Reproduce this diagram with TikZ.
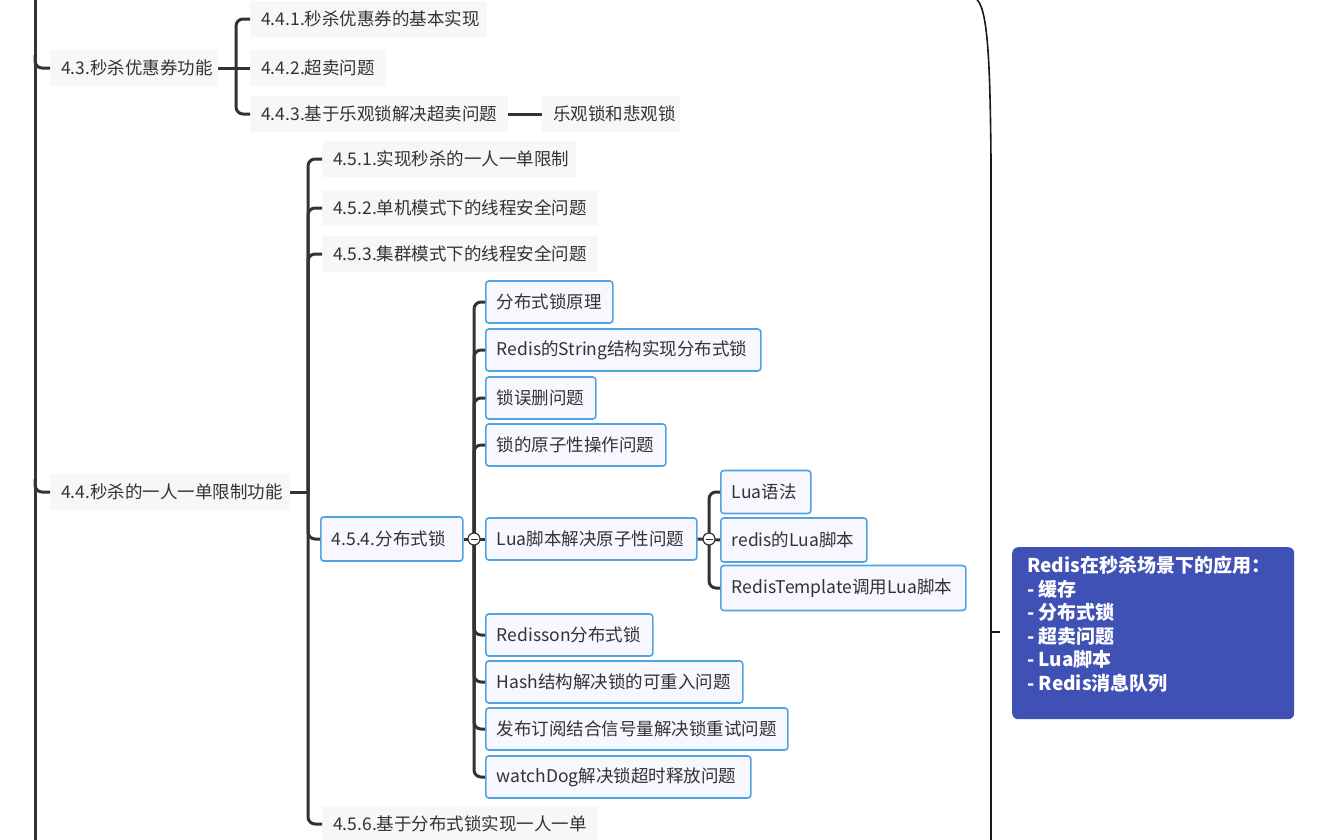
\documentclass[tikz,border=0pt]{standalone}
\usepackage{fontspec}
\setmainfont{Noto Sans CJK SC}
\begin{document}
\begin{tikzpicture}[x=1pt,y=-1pt,
  base/.style={anchor=west,inner xsep=11pt,inner ysep=0pt,font=\fontsize{17.5}{20}\selectfont,text=black!80,text width=#1-22pt,align=left},
  plain/.style={base=#1,fill=gray!6,minimum height=36},
  bbox/.style={base=#1,fill=blue!3,draw=cyan!70!blue!70,line width=1.6pt,rounded corners=3pt,minimum height=42},
  conn/.style={draw=black!80,line width=3pt,rounded corners=7pt},
  knob/.style={circle,draw=black!80,fill=white,line width=1.2pt,minimum size=12pt,inner sep=0pt}]
\useasboundingbox (0,0) rectangle (1324,839);
\fill[white] (0,0) rectangle (1324,839);
% trunk
\draw[draw=black!80,line width=3pt] (35,-5) -- (35,845);
\node[plain=168] (n43) at (50,68) {4.3.秒杀优惠券功能};
\node[plain=240] (n44) at (50,492) {4.4.秒杀的一人一单限制功能};
\draw[conn] (35,55) |- (n43.west);
\draw[conn] (35,479) |- (n44.west);
% 4.3 children
\node[plain=237] (a1) at (250,19) {4.4.1.秒杀优惠券的基本实现};
\node[plain=136] (a2) at (250,68) {4.4.2.超卖问题};
\node[plain=258] (a3) at (250,114) {4.4.3.基于乐观锁解决超卖问题};
\node[plain=138] (a31) at (542,114) {乐观锁和悲观锁};
\draw[conn] (n43.east) -- (250,68);
\draw[conn] (236,68) |- (a1.west);
\draw[conn] (236,68) |- (a3.west);
\draw[conn] (a3.east) -- (a31.west);
% 4.4 children
\node[plain=254] (b1) at (322,159) {4.5.1.实现秒杀的一人一单限制};
\node[plain=276] (b2) at (322,208) {4.5.2.单机模式下的线程安全问题};
\node[plain=276] (b3) at (322,254) {4.5.3.集群模式下的线程安全问题};
\node[bbox=142,minimum height=44] (b4) at (320,539) {4.5.4.分布式锁};
\node[plain=276] (b6) at (322,824) {4.5.6.基于分布式锁实现一人一单};
\draw[conn] (n44.east) -- (308,492);
\foreach \c in {b1,b2,b3} \draw[conn] (308,492) |- (\c.west);
\draw[conn] (308,492) |- (b4.west);
\draw[conn] (308,492) |- (b6.west);
% 4.5.4 children
\node[bbox=127] (c1) at (485,302) {分布式锁原理};
\node[bbox=275] (c2) at (485,350) {Redis的String结构实现分布式锁};
\node[bbox=110] (c3) at (485,398) {锁误删问题};
\node[bbox=180] (c4) at (485,445) {锁的原子性操作问题};
\node[bbox=211] (c5) at (485,539) {Lua脚本解决原子性问题};
\node[bbox=167] (c6) at (485,635) {Redisson分布式锁};
\node[bbox=257] (c7) at (485,682) {Hash结构解决锁的可重入问题};
\node[bbox=302] (c8) at (485,729) {发布订阅结合信号量解决锁重试问题};
\node[bbox=265] (c9) at (485,777) {watchDog解决锁超时释放问题};
\draw[conn] (b4.east) -- (c5.west);
\foreach \c in {c1,c2,c3,c4,c6,c7,c8,c9} \draw[conn] (474,539) |- (\c.west);
\node[knob] (k1) at (474,539) {};
\draw[line width=1pt,black!80] (k1.center) ++(-3.5,0) -- ++(7,0);
% Lua children
\node[bbox=90,minimum height=43] (d1) at (720,492) {Lua语法};
\node[bbox=146,minimum height=44] (d2) at (720,540) {redis的Lua脚本};
\node[bbox=245,minimum height=45] (d3) at (720,588) {RedisTemplate调用Lua脚本};
\draw[conn] (c5.east) -- (d2.west);
\draw[conn] (709,539) |- (d1.west);
\draw[conn] (709,539) |- (d3.west);
\node[knob] (k2) at (709,539) {};
\draw[line width=1pt,black!80] (k2.center) ++(-3.5,0) -- ++(7,0);
% right brace and summary
\draw[black!90,line width=1.6pt] (975,-2) .. controls (988,5) and (990,60) .. (991,160) -- (991,845);
\coordinate (tk) at (991,632);
\node[anchor=north west,fill={rgb,255:red,64;green,81;blue,181},rounded corners=6pt,minimum width=282,minimum height=172,inner sep=0pt] (sum) at (1012,547) {};
\node[anchor=north west,align=left,text=white,font=\fontsize{19}{23.5}\selectfont\bfseries,inner sep=0pt] (st) at (1027,556) {Redis在秒杀场景下的应用：\\- 缓存\\- 分布式锁\\- 超卖问题\\- Lua脚本\\- Redis消息队列};
\draw[black!90,line width=1.2pt] (tk) -- (1000,632);
\end{tikzpicture}
\end{document}
